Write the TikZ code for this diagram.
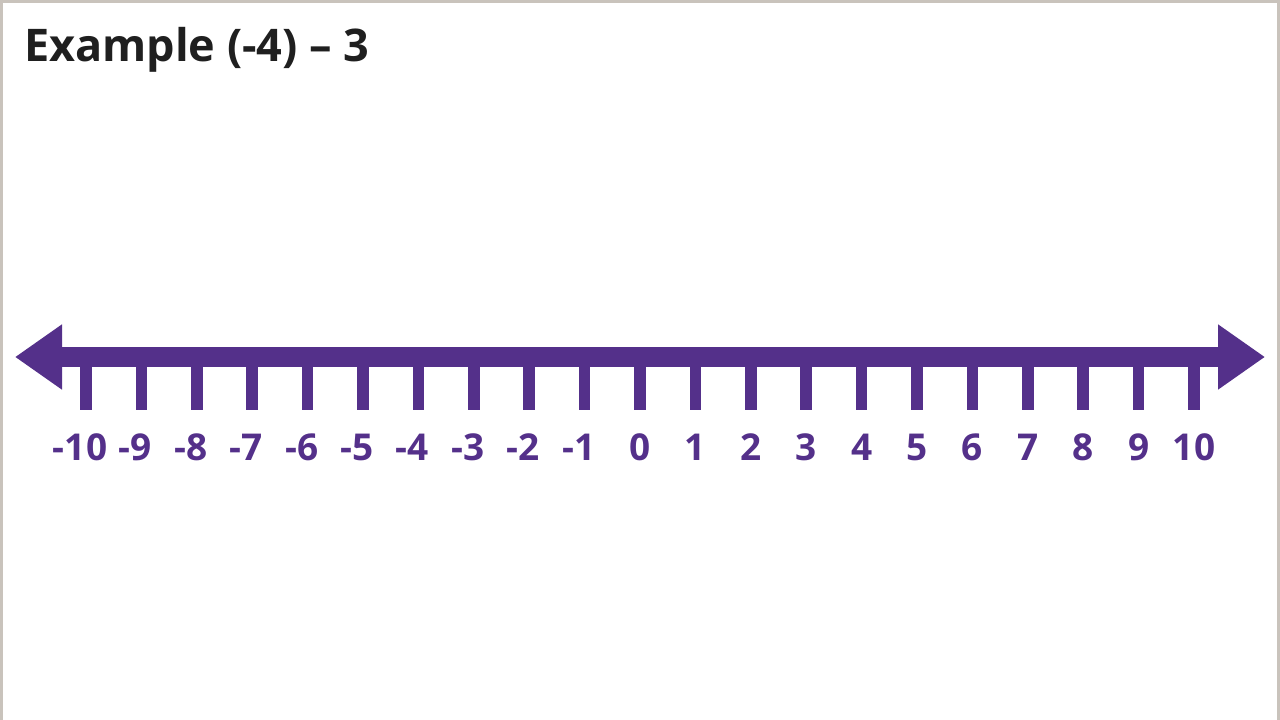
\documentclass[tikz,border=0pt]{standalone}
\usepackage{fontspec}
\setmainfont{Open Sans}
\usepackage{tikz}
\usetikzlibrary{arrows.meta, positioning}
\definecolor{linepurple}{HTML}{54308A}
\definecolor{framegrey}{HTML}{C9C3BC}
\tikzset{
  numline/.style={{Triangle[length=47pt, width=62pt]}-{Triangle[length=47pt, width=62pt]}, line width=20.5pt, draw=linepurple},
  tickmark/.style={line width=11.5pt, draw=linepurple},
  ticklabel/.style={anchor=base, inner sep=0pt, text=linepurple, font=\fontsize{37}{40}\selectfont\bfseries},
  titletext/.style={anchor=base west, inner sep=0pt, text=black!88, font=\fontsize{45}{48}\selectfont\bfseries},
  frameline/.style={draw=framegrey, line width=3pt},
}

\begin{document}
\begin{tikzpicture}[x=1pt, y=-1pt]
  \useasboundingbox (0,0) rectangle (1280,720);
  % Frame
  \draw[frameline] (1.5,720) -- (1.5,1.5) -- (1278.5,1.5) -- (1278.5,720);

  % Title
  \node[titletext] (title) at (24,61) {Example (-4) – 3};

  % Number line
  \coordinate (lefttip) at (15,357);
  \coordinate (righttip) at (1265,357);
  \draw[numline] (lefttip) -- (righttip);

  % Ticks and labels
  \foreach \n in {-10,...,10} {
    \pgfmathsetmacro{\xpos}{640+55.4*\n}
    \pgfmathtruncatemacro{\absn}{abs(\n)}
    \coordinate (tick\n) at (\xpos,360);
    \draw[tickmark] (tick\n) -- ++(0,49.5);
    \ifnum\n<0
      \node[ticklabel] (lbl\n) at (\xpos,460) {\llap{-}\absn};
    \else
      \node[ticklabel] (lbl\n) at (\xpos,460) {\absn};
    \fi
  }
\end{tikzpicture}
\end{document}
